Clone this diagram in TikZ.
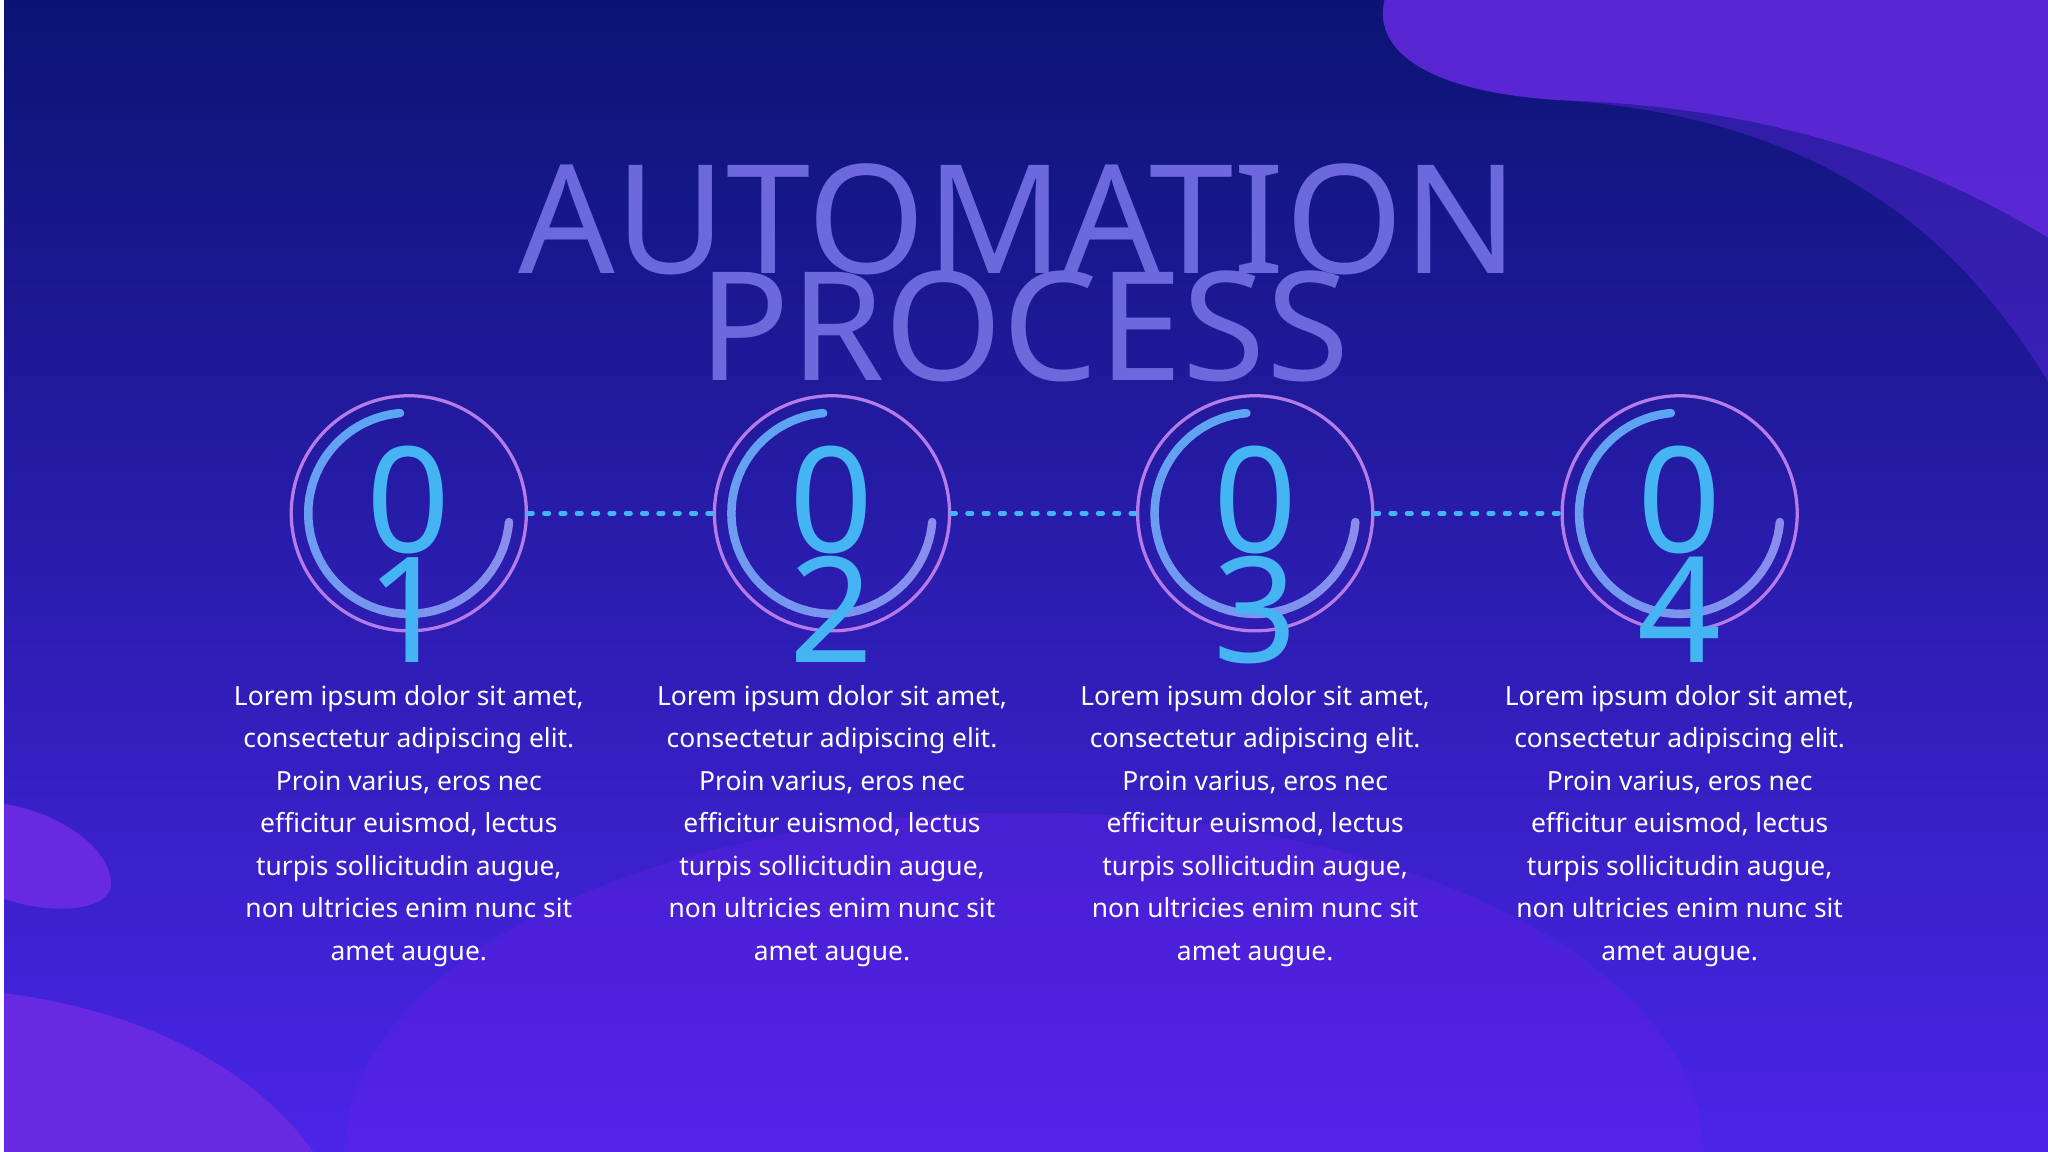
\documentclass[tikz,border=0pt]{standalone}
\usepackage{fontspec}
\setmainfont{Noto Sans}
\usetikzlibrary{positioning, calc}
\definecolor{navy}{HTML}{0B1474}
\definecolor{violet}{HTML}{4A25E8}
\definecolor{blob}{HTML}{6A2BE0}
\definecolor{titlecol}{HTML}{6B69DC}
\definecolor{digitcol}{HTML}{45B4F2}
\definecolor{ringcol}{HTML}{B57BE8}
\definecolor{arcA}{HTML}{5AA6F4}
\definecolor{arcB}{HTML}{8C8CEC}
\tikzset{
ring/.style={circle, draw=ringcol, line width=0.25mm, minimum size=18mm, inner sep=0pt}, % outer thin circle
digit/.style={text=digitcol, font=\fontsize{32}{32}\selectfont, anchor=base},
body/.style={text=white, align=center, font=\fontsize{5.75}{9.27}\selectfont},
link/.style={draw=digitcol, line width=0.35mm, dash pattern=on 0.35mm off 0.9mm, line cap=round},
title/.style={text=titlecol, font=\fontsize{33}{33}\selectfont},
}
\begin{document}
\begin{tikzpicture}[x=0.1mm, y=0.1mm]
    % background
    \useasboundingbox (0,0) rectangle (1568,882);
    \clip (0,0) rectangle (1568,882);
    \shade[top color=navy, bottom color=violet] (0,0) rectangle (1568,882);
    \fill[violet!80!magenta, opacity=0.3] (784,0) ellipse (520 and 260);
    \fill[blob!85!violet, opacity=0.85] (1060,882) .. controls (1050,840) and (1100,810) .. (1200,805)
        .. controls (1350,800) and (1470,760) .. (1568,700) -- (1568,882) -- cycle;
    \fill[blob!70!violet, opacity=0.4] (1200,805) .. controls (1400,790) and (1500,700) .. (1568,590)
        -- (1568,700) .. controls (1470,760) and (1350,800) .. (1200,805);
    \fill[blob!90!violet] (0,267) .. controls (40,262) and (85,235) .. (85,205)
        .. controls (85,185) and (40,180) .. (0,195) -- cycle;
    \fill[blob!90!violet] (0,122) .. controls (100,110) and (190,70) .. (240,0) -- (0,0) -- cycle;
    \fill[white] (0,0) rectangle (3,882);

    % title
    \node[title] (t1) at (780,714) {AUTOMATION};
    \node[title] (t2) at (784,632) {PROCESS};

    % steps
    \foreach \i/\x in {1/313, 2/637, 3/961, 4/1286} {
        \node[ring] (c\i) at (\x,489) {};
        \foreach \a in {95,100,...,350}
            \pgfmathsetmacro\mix{100-(\a-95)/2.6}
            \draw[color=arcA!\mix!arcB, line width=0.65mm, line cap=round]
                ($(c\i.center)+(\a:77)$) arc (\a:\a+5:77);
        \node[digit] (d\i) at (\x,459) {0};
        \node[digit] (e\i) at (\x,375) {\i};
        \node[body, anchor=north] (b\i) at (\x,370) {Lorem ipsum dolor sit amet,\\consectetur adipiscing elit.\\Proin varius, eros nec\\efficitur euismod, lectus\\turpis sollicitudin augue,\\non ultricies enim nunc sit\\amet augue.};
    }
    \draw[link] (c1.east) -- (c2.west);
    \draw[link] (c2.east) -- (c3.west);
    \draw[link] (c3.east) -- (c4.west);
\end{tikzpicture}
\end{document}
